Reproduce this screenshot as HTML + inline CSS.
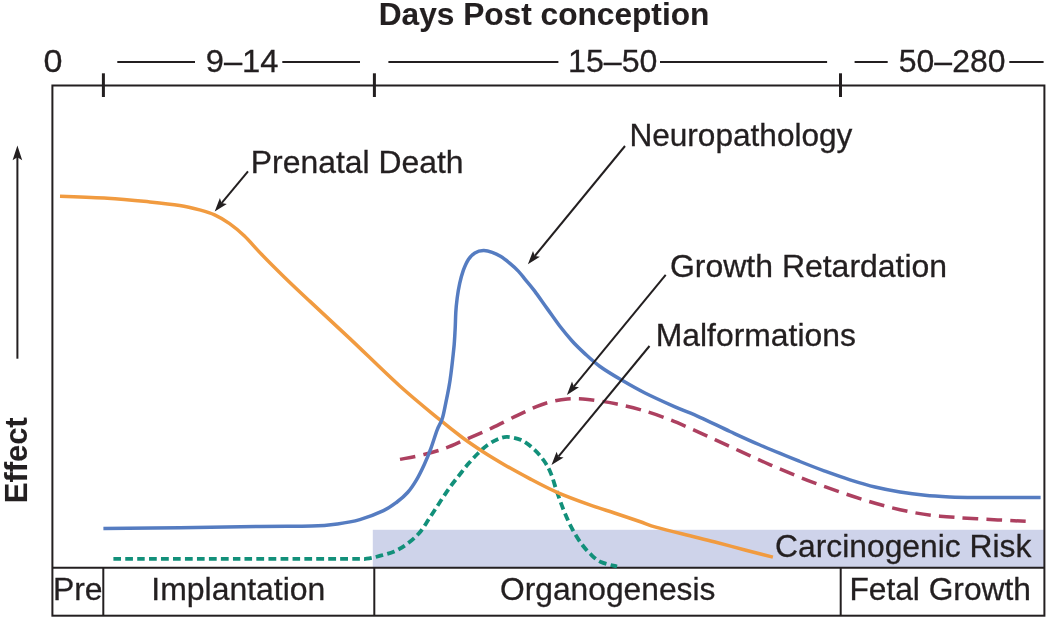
<!DOCTYPE html>
<html>
<head>
<meta charset="utf-8">
<title>Days Post conception</title>
<style>
html,body{margin:0;padding:0;background:#fff;}
body{width:1050px;height:622px;overflow:hidden;}
svg{display:block;}
text{font-family:"Liberation Sans",sans-serif;fill:#231f20;stroke:#231f20;stroke-width:0.3px;}
.lb{font-size:31.5px;}
.bd{font-weight:bold;font-size:31.5px;stroke-width:0.1px;}
.k{stroke:#231f20;fill:none;}
</style>
</head>
<body>
<svg width="1050" height="622" viewBox="0 0 1050 622">
<rect width="1050" height="622" fill="#fff"/>

<!-- title -->
<text class="bd" x="378.7" y="25.2" textLength="330.7" lengthAdjust="spacingAndGlyphs">Days Post conception</text>

<!-- top scale -->
<text class="lb" x="43.4" y="71.6" textLength="19.0" lengthAdjust="spacingAndGlyphs">0</text>
<text class="lb" x="205.7" y="71.6" textLength="72.8" lengthAdjust="spacingAndGlyphs">9–14</text>
<text class="lb" x="568.0" y="71.6" textLength="89.4" lengthAdjust="spacingAndGlyphs">15–50</text>
<text class="lb" x="898.8" y="71.6" textLength="106.7" lengthAdjust="spacingAndGlyphs">50–280</text>
<g class="k" stroke-width="2">
<line x1="117.3" y1="62" x2="195" y2="62"/>
<line x1="282.3" y1="62" x2="360" y2="62"/>
<line x1="388.4" y1="62" x2="558.4" y2="62"/>
<line x1="660" y1="62" x2="827.1" y2="62"/>
<line x1="854.6" y1="62" x2="887.7" y2="62"/>
<line x1="1009.3" y1="62" x2="1043.6" y2="62"/>
</g>

<!-- carcinogenic band -->
<rect x="372.8" y="529.8" width="671.6" height="38" fill="#ced3ea"/>

<!-- frame -->
<g class="k" stroke-width="2">
<rect x="52.4" y="85.5" width="992" height="530.2"/>
<line x1="52.4" y1="567.7" x2="1044.4" y2="567.7"/>
<line x1="103.3" y1="567.7" x2="103.3" y2="615.7"/>
<line x1="374.3" y1="567.7" x2="374.3" y2="615.7"/>
<line x1="840.7" y1="567.7" x2="840.7" y2="615.7"/>
</g>
<g class="k" stroke-width="3">
<line x1="103.4" y1="73.3" x2="103.4" y2="97"/>
<line x1="374.4" y1="73.3" x2="374.4" y2="97"/>
<line x1="840.5" y1="73.3" x2="840.5" y2="97"/>
</g>

<!-- effect arrow -->
<line class="k" stroke-width="2" x1="17.4" y1="358.7" x2="17.4" y2="156"/>
<path d="M17.4,145.5 L22.2,160.2 L17.4,157.3 L12.6,160.2 Z" fill="#231f20"/>
<text class="bd" transform="translate(26.7,503.2) rotate(-90)" x="0" y="0" textLength="85.8" lengthAdjust="spacingAndGlyphs">Effect</text>

<!-- curves -->
<path d="M400.0,459.4 C404.0,458.6 416.3,456.4 424.0,454.5 C431.7,452.6 439.0,450.5 446.0,448.0 C453.0,445.5 458.2,442.7 465.8,439.4 C473.4,436.1 483.0,432.2 491.6,428.2 C500.2,424.2 510.0,418.9 517.5,415.3 C525.0,411.7 530.7,409.0 536.4,406.7 C542.1,404.4 546.7,402.8 551.9,401.5 C557.1,400.2 562.2,399.4 567.4,399.0 C572.6,398.6 577.7,398.7 582.9,399.0 C588.1,399.3 592.7,400.0 598.4,400.8 C604.1,401.6 610.1,402.5 617.0,404.0 C623.9,405.5 632.0,407.3 640.0,409.6 C648.0,411.9 656.7,414.7 665.0,417.8 C673.3,420.9 681.7,424.6 690.0,428.2 C698.3,431.8 706.7,435.8 715.0,439.6 C723.3,443.4 731.7,447.4 740.0,451.2 C748.3,455.0 756.7,458.8 765.0,462.5 C773.3,466.2 781.7,469.8 790.0,473.2 C798.3,476.6 806.7,480.0 815.0,483.1 C823.3,486.2 831.7,489.1 840.0,492.0 C848.3,494.9 856.7,497.6 865.0,500.2 C873.3,502.8 881.7,505.2 890.0,507.3 C898.3,509.4 906.7,511.3 915.0,512.8 C923.3,514.3 929.7,515.2 940.0,516.2 C950.3,517.2 962.7,517.9 977.0,518.8 C991.3,519.6 1017.6,520.9 1025.7,521.3" fill="none" stroke="#ad4060" stroke-width="3.5" stroke-dasharray="15.6,8.2"/>
<path d="M113.4,558.9 C134.5,558.9 200.6,558.9 240.0,558.9 C279.4,558.9 328.9,558.9 350.0,558.9 C371.1,558.9 361.6,559.2 366.7,558.7 C371.8,558.2 375.9,556.9 380.5,555.7 C385.1,554.5 390.0,553.3 394.3,551.4 C398.6,549.5 402.2,547.5 406.3,544.5 C410.4,541.5 415.0,537.9 418.8,533.6 C422.6,529.3 425.8,523.6 429.2,518.5 C432.6,513.4 435.9,508.2 439.2,503.2 C442.5,498.2 445.8,493.0 449.0,488.5 C452.2,484.0 455.4,480.1 458.6,476.0 C461.8,471.9 465.1,467.6 468.3,463.8 C471.5,460.1 474.7,456.6 477.9,453.5 C481.1,450.4 484.4,447.3 487.6,445.0 C490.8,442.7 493.9,440.9 497.2,439.5 C500.5,438.1 503.2,436.8 507.2,436.9 C511.2,437.0 516.8,438.1 521.2,440.1 C525.6,442.1 529.7,445.4 533.5,448.8 C537.3,452.2 540.9,456.4 543.8,460.5 C546.7,464.6 548.6,468.0 550.8,473.2 C553.0,478.4 554.8,485.7 557.0,491.9 C559.2,498.1 561.4,504.6 563.8,510.5 C566.2,516.4 568.6,522.0 571.4,527.4 C574.2,532.8 577.4,538.1 580.6,542.6 C583.8,547.1 587.4,551.2 590.8,554.4 C594.2,557.6 596.5,560.0 600.9,562.0 C605.3,564.0 614.3,565.8 617.0,566.6" fill="none" stroke="#12907a" stroke-width="3.8" stroke-dasharray="7.7,4.23"/>
<path d="M60.0,196.2 C67.9,196.5 92.4,197.2 107.4,198.2 C122.4,199.1 137.8,200.7 149.8,201.9 C161.9,203.1 171.4,204.1 179.7,205.4 C188.0,206.7 193.8,208.3 199.6,209.9 C205.4,211.5 209.6,212.6 214.6,214.9 C219.6,217.2 224.6,220.1 229.6,223.6 C234.6,227.1 239.1,230.9 244.5,236.1 C249.9,241.3 255.3,248.0 262.0,254.8 C268.6,261.7 276.5,269.5 284.4,277.2 C292.3,284.9 298.5,290.7 309.4,300.9 C320.3,311.1 334.8,324.4 349.9,338.6 C365.0,352.8 384.8,372.5 399.8,386.0 C414.8,399.5 429.3,411.1 439.7,419.7 C450.1,428.3 455.2,432.2 462.3,437.5 C469.4,442.8 475.1,446.6 482.2,451.2 C489.3,455.8 496.8,460.3 504.7,464.9 C512.6,469.5 520.9,474.0 529.6,478.6 C538.3,483.2 547.2,488.0 557.1,492.3 C567.0,496.6 579.6,501.2 589.1,504.6 C598.6,508.1 606.0,510.2 614.4,513.0 C622.8,515.8 632.7,519.1 639.7,521.5 C646.7,523.9 648.2,525.0 656.6,527.4 C665.0,529.8 680.3,533.4 690.0,535.8 C699.7,538.2 705.8,539.6 715.0,542.0 C724.2,544.4 735.4,547.5 745.0,550.0 C754.6,552.5 768.2,555.9 772.9,557.1" fill="none" stroke="#f19b40" stroke-width="3.5" stroke-linecap="butt"/>
<path d="M103.4,528.6 C116.2,528.5 153.9,528.1 180.0,527.8 C206.1,527.4 238.1,526.8 260.0,526.5 C281.9,526.2 298.7,526.5 311.6,526.1 C324.5,525.7 329.5,525.0 337.5,523.9 C345.5,522.8 352.1,521.8 359.8,519.6 C367.5,517.4 377.3,513.5 383.5,510.6 C389.7,507.7 393.0,505.0 397.0,502.0 C401.0,499.0 404.4,496.2 407.6,492.5 C410.9,488.8 413.7,484.5 416.5,479.8 C419.3,475.1 421.9,469.6 424.3,464.4 C426.7,459.1 428.8,454.1 430.9,448.3 C433.0,442.5 435.3,434.8 437.2,429.8 C439.1,424.8 440.9,423.1 442.3,418.5 C443.8,413.9 444.8,407.5 445.9,402.4 C447.0,397.3 447.9,392.7 448.8,387.9 C449.7,383.1 450.4,378.2 451.0,373.4 C451.6,368.6 452.2,363.7 452.7,358.9 C453.2,354.1 453.8,349.3 454.2,344.5 C454.6,339.7 454.8,335.4 455.1,330.0 C455.4,324.6 455.5,317.8 455.8,312.4 C456.1,307.0 456.6,302.7 457.2,297.9 C457.8,293.1 458.7,288.0 459.7,283.4 C460.7,278.8 461.9,274.4 463.3,270.4 C464.8,266.4 466.5,262.4 468.4,259.5 C470.3,256.6 472.4,254.5 474.9,253.0 C477.4,251.5 480.6,250.7 483.5,250.6 C486.4,250.5 489.3,251.3 492.2,252.3 C495.1,253.3 498.0,254.8 500.9,256.6 C503.8,258.4 506.7,260.8 509.6,263.2 C512.5,265.6 515.6,268.3 518.3,271.1 C520.9,273.9 522.8,276.5 525.5,279.8 C528.2,283.1 531.1,286.3 534.7,291.1 C538.3,295.9 543.0,302.8 547.2,308.6 C551.4,314.4 555.6,320.6 559.7,326.0 C563.9,331.4 568.0,336.4 572.1,341.0 C576.2,345.6 580.0,349.1 584.6,353.4 C589.2,357.6 593.8,362.0 600.0,366.5 C606.2,371.0 614.5,375.9 622.0,380.3 C629.5,384.7 636.2,388.6 645.0,393.0 C653.8,397.4 665.8,402.8 675.0,406.9 C684.2,410.9 690.8,413.2 700.0,417.3 C709.2,421.4 720.0,426.9 730.0,431.5 C740.0,436.1 748.3,440.0 760.0,445.0 C771.7,450.0 789.2,457.1 800.0,461.5 C810.8,465.9 816.7,468.1 825.0,471.2 C833.3,474.2 841.7,477.2 850.0,479.8 C858.3,482.4 866.7,485.0 875.0,487.0 C883.3,489.0 891.7,490.6 900.0,492.0 C908.3,493.4 916.7,494.5 925.0,495.3 C933.3,496.1 941.7,496.5 950.0,496.9 C958.3,497.2 965.8,497.3 975.0,497.4 C984.2,497.5 994.1,497.4 1005.0,497.4 C1015.9,497.4 1034.7,497.4 1040.6,497.4" fill="none" stroke="#557cc1" stroke-width="3.5"/>

<!-- leaders -->
<g class="k" stroke-width="2">
<line x1="248.0" y1="171.3" x2="221.6" y2="203.1"/>
<path d="M214.7,211.4 L219.9,198.1 L221.6,203.1 L226.8,203.9 Z" fill="#231f20" stroke="none"/>
<line x1="625.0" y1="146.0" x2="534.8" y2="256.0"/>
<path d="M527.9,264.3 L533.0,251.0 L534.8,256.0 L539.9,256.7 Z" fill="#231f20" stroke="none"/>
<line x1="665.7" y1="274.9" x2="573.8" y2="386.6"/>
<path d="M566.9,394.9 L572.0,381.6 L573.8,386.6 L579.0,387.3 Z" fill="#231f20" stroke="none"/>
<line x1="649.5" y1="346.0" x2="558.4" y2="456.7"/>
<path d="M551.5,465.0 L556.6,451.7 L558.4,456.7 L563.6,457.4 Z" fill="#231f20" stroke="none"/>
</g>

<!-- labels -->
<text class="lb" x="250.8" y="172.6" textLength="212.7" lengthAdjust="spacingAndGlyphs">Prenatal Death</text>
<text class="lb" x="629.4" y="145.8" textLength="223.0" lengthAdjust="spacingAndGlyphs">Neuropathology</text>
<text class="lb" x="670.0" y="276.5" textLength="277.1" lengthAdjust="spacingAndGlyphs">Growth Retardation</text>
<text class="lb" x="655.7" y="346" textLength="200.2" lengthAdjust="spacingAndGlyphs">Malformations</text>
<text class="lb" x="775.1" y="557" textLength="256.2" lengthAdjust="spacingAndGlyphs">Carcinogenic Risk</text>

<!-- bottom row -->
<text class="lb" x="52.9" y="600.2" textLength="49.6" lengthAdjust="spacingAndGlyphs">Pre</text>
<text class="lb" x="151.3" y="600.2" textLength="174.1" lengthAdjust="spacingAndGlyphs">Implantation</text>
<text class="lb" x="500.0" y="600.3" textLength="215.4" lengthAdjust="spacingAndGlyphs">Organogenesis</text>
<text class="lb" x="849.4" y="600.2" textLength="181.5" lengthAdjust="spacingAndGlyphs">Fetal Growth</text>
</svg>
</body>
</html>
